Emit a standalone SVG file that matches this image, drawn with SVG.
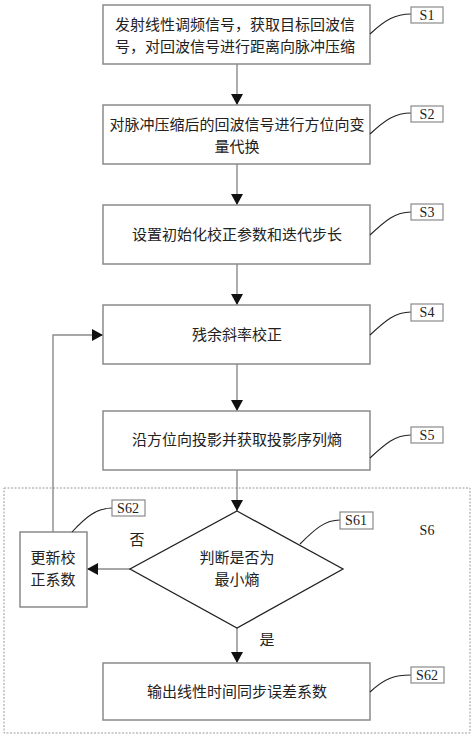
<svg xmlns="http://www.w3.org/2000/svg" width="474" height="740" viewBox="0 0 474 740">
<defs>
<marker id="ah" markerWidth="12" markerHeight="12" refX="11" refY="6" orient="auto" markerUnits="userSpaceOnUse">
<path d="M0,0 L11,6 L0,12 Z" fill="#111"/>
</marker>
</defs>
<style>
.box{fill:#fff;stroke:#8a8a8a;stroke-width:1.5}
.lbl{fill:#fff;stroke:#8a8a8a;stroke-width:1.2}
.ln{fill:none;stroke:#8a8a8a;stroke-width:1.4}
.cv{fill:none;stroke:#222;stroke-width:1.1}
.t{font-family:"Noto Sans CJK SC","Noto Sans CJK JP",sans-serif;font-size:15px;fill:#222;text-anchor:middle}
.tl{font-family:"Noto Sans CJK SC","Noto Sans CJK JP",sans-serif;font-size:15px;fill:#222}
.s{font-family:"Liberation Serif",serif;font-size:14px;fill:#222;text-anchor:middle}
</style>
<rect width="474" height="740" fill="#fff"/>
<rect id="s6-region" x="4" y="488" width="466" height="245" fill="none" stroke="#9a9a9a" stroke-width="1" stroke-dasharray="2,1.5"/>
<text class="s" x="427" y="535">S6</text>
<g id="connectors">
<line class="ln" x1="237" y1="64" x2="237" y2="105" marker-end="url(#ah)"/>
<line class="ln" x1="237" y1="164" x2="237" y2="205" marker-end="url(#ah)"/>
<line class="ln" x1="237" y1="264" x2="237" y2="305" marker-end="url(#ah)"/>
<line class="ln" x1="237" y1="364" x2="237" y2="411" marker-end="url(#ah)"/>
<line class="ln" x1="237" y1="470" x2="237" y2="511" marker-end="url(#ah)"/>
<line class="ln" x1="237" y1="628" x2="237" y2="663" marker-end="url(#ah)"/>
<line class="ln" x1="130" y1="569" x2="87" y2="569" marker-end="url(#ah)"/>
<polyline class="ln" points="53,532 53,335 103,335" marker-end="url(#ah)"/>
<text class="t" x="137" y="545">否</text>
<text class="t" x="267" y="645">是</text>
</g>
<g id="S1">
<rect class="box" x="103" y="5" width="267" height="59"/>
<text class="tl" x="115" y="30">发射线性调频信号，获取目标回波信</text>
<text class="tl" x="115" y="52">号，对回波信号进行距离向脉冲压缩</text>
<path class="cv" d="M370,34 C385,20 395,14 411,14"/>
<rect class="lbl" x="411" y="7" width="32" height="16"/>
<text class="s" x="427" y="20">S1</text>
</g>
<g id="S2">
<rect class="box" x="103" y="105" width="267" height="59"/>
<text class="t" x="237" y="130">对脉冲压缩后的回波信号进行方位向变</text>
<text class="t" x="237" y="152">量代换</text>
<path class="cv" d="M370,134 C385,120 395,113 411,113"/>
<rect class="lbl" x="411" y="106" width="32" height="16"/>
<text class="s" x="427" y="119">S2</text>
</g>
<g id="S3">
<rect class="box" x="103" y="205" width="267" height="59"/>
<text class="t" x="237" y="240">设置初始化校正参数和迭代步长</text>
<path class="cv" d="M370,235 C385,221 395,212 411,212"/>
<rect class="lbl" x="411" y="204" width="32" height="16"/>
<text class="s" x="427" y="217">S3</text>
</g>
<g id="S4">
<rect class="box" x="103" y="305" width="267" height="59"/>
<text class="t" x="237" y="340">残余斜率校正</text>
<path class="cv" d="M370,335 C385,321 395,312 411,312"/>
<rect class="lbl" x="411" y="304" width="32" height="17"/>
<text class="s" x="427" y="317">S4</text>
</g>
<g id="S5">
<rect class="box" x="103" y="411" width="267" height="59"/>
<text class="t" x="237" y="445">沿方位向投影并获取投影序列熵</text>
<path class="cv" d="M370,458 C385,444 395,435 411,435"/>
<rect class="lbl" x="411" y="427" width="32" height="16"/>
<text class="s" x="427" y="440">S5</text>
</g>
<g id="S61">
<polygon points="237,511 343,569 237,628 130,569" fill="#fff" stroke="#222" stroke-width="1.3"/>
<text class="t" x="237" y="563">判断是否为</text>
<text class="t" x="237" y="585">最小熵</text>
<path class="cv" d="M300,544 C315,529 325,520 340,520"/>
<rect class="lbl" x="340" y="512" width="33" height="17"/>
<text class="s" x="356" y="525">S61</text>
</g>
<g id="S62-update">
<rect class="box" x="20" y="532" width="67" height="75"/>
<text class="t" x="53" y="563">更新校</text>
<text class="t" x="53" y="585">正系数</text>
<path class="cv" d="M72,532 C85,518 96,508 112,508"/>
<rect class="lbl" x="112" y="500" width="33" height="16"/>
<text class="s" x="128" y="513">S62</text>
</g>
<g id="S62-output">
<rect class="box" x="103" y="663" width="267" height="57"/>
<text class="t" x="237" y="697">输出线性时间同步误差系数</text>
<path class="cv" d="M370,692 C385,678 395,675 411,675"/>
<rect class="lbl" x="411" y="667" width="33" height="16"/>
<text class="s" x="427" y="680">S62</text>
</g>
</svg>
